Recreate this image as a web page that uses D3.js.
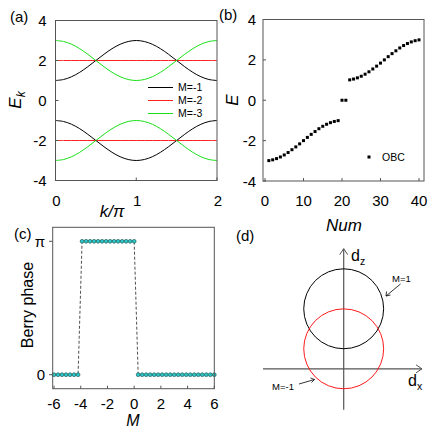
<!DOCTYPE html>
<html><head><meta charset="utf-8">
<script src="https://cdn.jsdelivr.net/npm/d3@7"></script>
<style>
body{margin:0;background:#fff}
text{font-family:"Liberation Sans",Arial,sans-serif;fill:#000}
</style></head>
<body><svg id="c" width="436" height="436"></svg>
<script>
// ---------- data ----------
// (a) band structure, k/pi samples
const kGrid = [0,0.1,0.2,0.3,0.4,0.5,0.6,0.7,0.8,0.9,1,1.1,1.2,1.3,1.4,1.5,1.6,1.7,1.8,1.9,2];
const bandM1Up = [1,1.05,1.19,1.41,1.69,2,2.31,2.59,2.81,2.95,3,2.95,2.81,2.59,2.31,2,1.69,1.41,1.19,1.05,1];
const bandM1Dn = [-1,-1.05,-1.19,-1.41,-1.69,-2,-2.31,-2.59,-2.81,-2.95,-3,-2.95,-2.81,-2.59,-2.31,-2,-1.69,-1.41,-1.19,-1.05,-1];
const bandM2Up = [2,2,2,2,2,2,2,2,2,2,2,2,2,2,2,2,2,2,2,2,2];
const bandM2Dn = [-2,-2,-2,-2,-2,-2,-2,-2,-2,-2,-2,-2,-2,-2,-2,-2,-2,-2,-2,-2,-2];
const bandM3Up = [3,2.95,2.81,2.59,2.31,2,1.69,1.41,1.19,1.05,1,1.05,1.19,1.41,1.69,2,2.31,2.59,2.81,2.95,3];
const bandM3Dn = [-3,-2.95,-2.81,-2.59,-2.31,-2,-1.69,-1.41,-1.19,-1.05,-1,-1.05,-1.19,-1.41,-1.69,-2,-2.31,-2.59,-2.81,-2.95,-3];
const legendA = ["M=-1","M=-2","M=-3"];
const ticksAx = [0,1,2];
const ticksE = [-4,-2,0,2,4];

// (b) OBC spectrum
const obcNum = [1,2,3,4,5,6,7,8,9,10,11,12,13,14,15,16,17,18,19,20,21,22,23,24,25,26,27,28,29,30,31,32,33,34,35,36,37,38,39,40];
const obcE = [-2.99,-2.95,-2.89,-2.81,-2.71,-2.59,-2.45,-2.31,-2.16,-2.0,-1.84,-1.69,-1.55,-1.41,-1.29,-1.19,-1.11,-1.05,-1.01,
              0,0,
              1.01,1.05,1.11,1.19,1.29,1.41,1.55,1.69,1.84,2.0,2.16,2.31,2.45,2.59,2.71,2.81,2.89,2.95,2.99];
const ticksBx = [0,10,20,30,40];

// (c) Berry phase (units of pi)
const berryM = [-6,-5.7,-5.4,-5.1,-4.8,-4.5,-4.2,-3.9,-3.6,-3.3,-3,-2.7,-2.4,-2.1,-1.8,-1.5,-1.2,-0.9,-0.6,-0.3,0,
                0.3,0.6,0.9,1.2,1.5,1.8,2.1,2.4,2.7,3,3.3,3.6,3.9,4.2,4.5,4.8,5.1,5.4,5.7,6];
const berryPhase = [0,0,0,0,0,0,0,1,1,1,1,1,1,1,1,1,1,1,1,1,1,
                    0,0,0,0,0,0,0,0,0,0,0,0,0,0,0,0,0,0,0,0];
const ticksCx = [-6,-4,-2,0,2,4,6];

// (d) winding circles: [label, centre dz, radius]
const circleLabels = ["M=1","M=-1"];
const circleCz = [1.5,0.5];
const circleR = [1,1];

// ---------- drawing ----------
const svg = d3.select("#c");
const FRAME = "#555";
const fs = 15;

function frame(x0,y0,x1,y1){
  svg.append("rect").attr("x",x0).attr("y",y0).attr("width",x1-x0).attr("height",y1-y0)
    .attr("fill","none").attr("stroke",FRAME).attr("stroke-width",1);
}

// ===== (a) =====
{
  const x = d3.scaleLinear().domain([0,2]).range([55.5,217]);
  const y = d3.scaleLinear().domain([-4,4]).range([180.5,20.5]);
  const g = svg.append("g");
  const line = d3.line().x((d,i)=>x(kGrid[i])).y(d=>y(d)).curve(d3.curveCatmullRom);
  const series = [[bandM2Up,"#ff2020"],[bandM2Dn,"#ff2020"],[bandM1Up,"#000"],[bandM1Dn,"#000"],[bandM3Up,"#18e018"],[bandM3Dn,"#18e018"]];
  series.forEach(([d,c])=>g.append("path").attr("d",line(d)).attr("fill","none").attr("stroke",c).attr("stroke-width",1));
  frame(55.5,20.5,217,180.5);
  ticksE.forEach(t=>{
    g.append("line").attr("x1",55.5).attr("x2",58.5).attr("y1",y(t)).attr("y2",y(t)).attr("stroke",FRAME);
    g.append("text").attr("x",46.5).attr("y",y(t)+5.5).attr("text-anchor","end").attr("font-size",fs).text(t);
  });
  ticksAx.forEach(t=>{
    g.append("line").attr("x1",x(t)).attr("x2",x(t)).attr("y1",180.5).attr("y2",177.5).attr("stroke",FRAME);
    g.append("text").attr("x",x(t)+1).attr("y",206).attr("text-anchor","middle").attr("font-size",fs).text(t);
  });
  // legend
  const lc = ["#000","#ff2020","#18e018"];
  legendA.forEach((l,i)=>{
    const yy = 87.5+i*13;
    g.append("line").attr("x1",148).attr("x2",173).attr("y1",yy).attr("y2",yy).attr("stroke",lc[i]).attr("stroke-width",1);
    g.append("text").attr("x",178).attr("y",yy+3.7).attr("font-size",10.5).text(l);
  });
  g.append("text").attr("x",10).attr("y",22).attr("font-size",15).text("(a)");
  const ek = g.append("text").attr("transform","translate(21,100) rotate(-90)").attr("text-anchor","middle")
    .attr("font-size",17).attr("font-style","italic");
  ek.append("tspan").text("E");
  ek.append("tspan").attr("font-size",12).attr("dy",4).text("k");
  g.append("text").attr("x",112).attr("y",217).attr("text-anchor","middle").attr("font-size",17).attr("font-style","italic").text("k/π");
}

// ===== (b) =====
{
  const x = d3.scaleLinear().domain([0,40]).range([265,419]);
  const y = d3.scaleLinear().domain([-4,4]).range([181,19.5]);
  const g = svg.append("g");
  frame(263,19.5,424,181);
  ticksE.forEach(t=>{
    g.append("line").attr("x1",263).attr("x2",266).attr("y1",y(t)).attr("y2",y(t)).attr("stroke",FRAME);
    g.append("text").attr("x",256).attr("y",y(t)+5.5).attr("text-anchor","end").attr("font-size",fs).text(t);
  });
  ticksBx.forEach(t=>{
    g.append("line").attr("x1",x(t)).attr("x2",x(t)).attr("y1",181).attr("y2",178).attr("stroke",FRAME);
    g.append("text").attr("x",x(t)).attr("y",206).attr("text-anchor","middle").attr("font-size",fs).text(t);
  });
  g.selectAll("rect.pt").data(obcE).join("rect").attr("class","pt")
    .attr("x",(d,i)=>x(obcNum[i])-1.5).attr("y",d=>y(d)-1.5).attr("width",3).attr("height",3).attr("fill","#000");
  g.append("rect").attr("x",367.5).attr("y",155.5).attr("width",3).attr("height",3).attr("fill","#000");
  g.append("text").attr("x",382).attr("y",161).attr("font-size",10.5).text("OBC");
  g.append("text").attr("x",219).attr("y",20).attr("font-size",15).text("(b)");
  g.append("text").attr("transform","translate(238,100) rotate(-90)").attr("text-anchor","middle")
    .attr("font-size",17).attr("font-style","italic").text("E");
  g.append("text").attr("x",344).attr("y",231).attr("text-anchor","middle").attr("font-size",17).attr("font-style","italic").text("Num");
}

// ===== (c) =====
{
  const x = d3.scaleLinear().domain([-6.1,6]).range([52.7,214.3]);
  const y = d3.scaleLinear().domain([0,1]).range([374.7,241.3]);
  const g = svg.append("g");
  frame(52.7,227.3,214.3,388.7);
  [[0,"0"],[1,"π"]].forEach(([t,l])=>{
    g.append("line").attr("x1",49).attr("x2",52.7).attr("y1",y(t)).attr("y2",y(t)).attr("stroke",FRAME);
    g.append("text").attr("x",45).attr("y",y(t)+5.5).attr("text-anchor","end").attr("font-size",fs).text(l);
  });
  ticksCx.forEach(t=>{
    g.append("line").attr("x1",x(t)).attr("x2",x(t)).attr("y1",388.7).attr("y2",385.7).attr("stroke",FRAME);
    g.append("text").attr("x",x(t)).attr("y",409).attr("text-anchor","middle").attr("font-size",fs).text(t);
  });
  const line = d3.line().x((d,i)=>x(berryM[i])).y(d=>y(d));
  g.append("path").attr("d",line(berryPhase)).attr("fill","none").attr("stroke","#222")
    .attr("stroke-width",0.8).attr("stroke-dasharray","3,2");
  g.selectAll("circle").data(berryPhase).join("circle")
    .attr("cx",(d,i)=>x(berryM[i])).attr("cy",d=>y(d)).attr("r",1.9)
    .attr("fill","#2cc8c8").attr("stroke","#1e5a5a").attr("stroke-width",0.7);
  g.append("text").attr("x",14).attr("y",239).attr("font-size",15).text("(c)");
  g.append("text").attr("transform","translate(33,305) rotate(-90)").attr("text-anchor","middle")
    .attr("font-size",16).text("Berry phase");
  g.append("text").attr("x",133).attr("y",426).attr("text-anchor","middle").attr("font-size",16).attr("font-style","italic").text("M");
}

// ===== (d) =====
{
  const x = d3.scaleLinear().domain([-2.02,1.96]).range([263,422]);
  const y = d3.scaleLinear().domain([-1.02,3.0]).range([409.7,248.7]);
  const g = svg.append("g");
  const axc = "#555";
  g.append("line").attr("x1",x(-2.02)).attr("x2",x(1.96)).attr("y1",y(0)).attr("y2",y(0)).attr("stroke",axc).attr("stroke-width",1.2);
  g.append("line").attr("x1",x(0)).attr("x2",x(0)).attr("y1",y(-1.02)).attr("y2",y(3.0)).attr("stroke",axc).attr("stroke-width",1.2);
  // arrowheads
  g.append("path").attr("d",`M${x(1.96)-6},${y(0)-4}L${x(1.96)},${y(0)}L${x(1.96)-6},${y(0)+4}`).attr("fill","none").attr("stroke",axc).attr("stroke-width",1);
  g.append("path").attr("d",`M${x(0)-4},${y(3.0)+6}L${x(0)},${y(3.0)}L${x(0)+4},${y(3.0)+6}`).attr("fill","none").attr("stroke",axc).attr("stroke-width",1);
  const cc = ["#000","#ff1a1a"];
  circleCz.forEach((cz,i)=>{
    g.append("circle").attr("cx",x(0)).attr("cy",y(cz)).attr("r",x(circleR[i])-x(0))
      .attr("fill","none").attr("stroke",cc[i]).attr("stroke-width",1);
  });
  // labels with pointer arrows
  g.append("text").attr("x",392).attr("y",282).attr("font-size",9.5).text(circleLabels[0]);
  g.append("line").attr("x1",400.5).attr("y1",284).attr("x2",386).attr("y2",296).attr("stroke","#000").attr("stroke-width",0.8);
  g.append("path").attr("d","M386.5,291.5L386,296L390.5,295").attr("fill","none").attr("stroke","#000").attr("stroke-width",0.8);
  g.append("text").attr("x",272).attr("y",390).attr("font-size",9.5).text(circleLabels[1]);
  g.append("line").attr("x1",299).attr("y1",384).attr("x2",314.5).attr("y2",379.5).attr("stroke","#000").attr("stroke-width",0.8);
  g.append("path").attr("d","M310.5,378L314.5,379.5L311.5,382.5").attr("fill","none").attr("stroke","#000").attr("stroke-width",0.8);
  const dz = g.append("text").attr("x",351).attr("y",261).attr("font-size",16);
  dz.append("tspan").text("d");
  dz.append("tspan").attr("font-size",10.5).attr("dy",4).text("z");
  const dx = g.append("text").attr("x",408).attr("y",386).attr("font-size",16);
  dx.append("tspan").text("d");
  dx.append("tspan").attr("font-size",10.5).attr("dy",4).text("x");
  g.append("text").attr("x",236).attr("y",241).attr("font-size",15).text("(d)");
}
</script></body></html>
